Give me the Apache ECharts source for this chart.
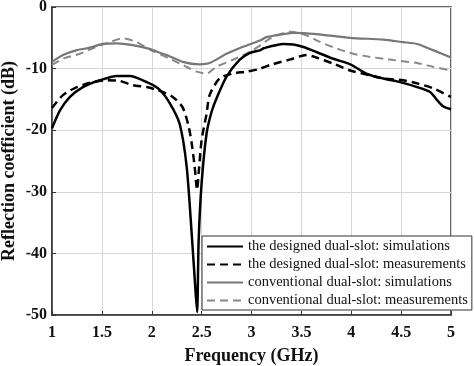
<!DOCTYPE html>
<html><head><meta charset="utf-8">
<script src="https://cdn.jsdelivr.net/npm/echarts@6/dist/echarts.min.js"></script>
<style>html,body{margin:0;padding:0;background:#fff}#c{width:474px;height:366px}</style>
</head><body><div id="c"></div>
<script>
const xTicks = [1, 1.5, 2, 2.5, 3, 3.5, 4, 4.5, 5];
const yTicks = [-50, -40, -30, -20, -10, 0];
const seriesNames = [
  'the designed dual-slot: simulations',
  'the designed dual-slot: measurements',
  'conventional dual-slot: simulations',
  'conventional dual-slot: measurements'
];
const designedSim = [[1.0,-19.7],[1.08,-16.8],[1.18,-14.6],[1.31,-13.0],[1.48,-11.9],[1.65,-11.2],[1.78,-11.2],[1.95,-12.2],[2.07,-13.3],[2.18,-15.6],[2.28,-19.0],[2.35,-25.9],[2.40,-36.7],[2.44,-46.4],[2.455,-49.5],[2.47,-38.0],[2.50,-28.6],[2.55,-20.5],[2.60,-17.0],[2.65,-14.8],[2.75,-11.3],[2.88,-8.6],[2.98,-7.5],[3.09,-7.0],[3.12,-6.7],[3.32,-6.0],[3.42,-6.1],[3.52,-6.5],[3.65,-7.3],[3.82,-8.4],[3.99,-9.3],[4.15,-10.8],[4.32,-11.6],[4.49,-12.2],[4.66,-13.0],[4.79,-13.8],[4.86,-15.1],[4.92,-16.1],[5.0,-16.6]];
const designedMeas = [[1.0,-16.4],[1.11,-14.3],[1.25,-13.0],[1.41,-12.2],[1.55,-11.9],[1.68,-12.0],[1.81,-12.7],[1.95,-13.0],[2.06,-13.5],[2.21,-14.6],[2.31,-16.3],[2.37,-19.4],[2.40,-22.1],[2.43,-25.9],[2.455,-29.7],[2.47,-27.0],[2.50,-21.6],[2.55,-17.3],[2.58,-14.3],[2.68,-11.6],[2.81,-10.8],[2.95,-10.5],[3.07,-10.1],[3.19,-9.4],[3.39,-8.5],[3.55,-7.8],[3.65,-8.2],[3.82,-9.2],[3.99,-10.3],[4.19,-11.1],[4.32,-11.6],[4.52,-11.9],[4.66,-12.4],[4.82,-13.2],[5.0,-14.6]];
const convSim = [[1.0,-8.9],[1.11,-7.8],[1.25,-7.0],[1.38,-6.6],[1.51,-6.0],[1.65,-5.9],[1.81,-6.2],[1.98,-6.8],[2.06,-7.3],[2.15,-7.8],[2.31,-8.9],[2.48,-9.3],[2.58,-9.1],[2.75,-7.6],[2.91,-6.5],[3.09,-5.4],[3.15,-4.9],[3.32,-4.4],[3.42,-4.2],[3.65,-4.4],[3.99,-5.0],[4.32,-5.3],[4.52,-5.7],[4.66,-6.0],[4.82,-7.0],[5.0,-8.2]];
const convMeas = [[1.0,-9.4],[1.11,-8.4],[1.28,-7.6],[1.41,-6.7],[1.58,-5.7],[1.71,-5.1],[1.85,-5.7],[1.98,-6.9],[2.18,-8.4],[2.31,-9.4],[2.45,-10.5],[2.55,-10.8],[2.65,-9.7],[2.81,-8.6],[2.98,-7.3],[3.09,-6.2],[3.19,-5.1],[3.39,-4.0],[3.55,-4.6],[3.69,-5.7],[3.85,-6.7],[4.02,-7.6],[4.19,-8.1],[4.42,-8.6],[4.66,-9.1],[4.82,-9.7],[5.0,-10.3]];

const serif = '"Liberation Serif","Times New Roman",serif';
const chart = echarts.init(document.getElementById('c'), null, {renderer:'canvas'});
function mk(name, data, color, width, type, z){
  return {name, type:'line', data, symbol:'none', smooth:0.25, z,
    lineStyle:{color, width, type}, itemStyle:{color}};
}
chart.setOption({
  animation:false,
  backgroundColor:'#fff',
  grid:{left:52, right:23, top:7, bottom:51, containLabel:false, outerBoundsMode:'none',
    show:true, borderColor:'#333', borderWidth:1.5},
  xAxis:{type:'value', min:1, max:5, interval:0.5,
    axisLine:{show:true, onZero:false, lineStyle:{color:'#333', width:1.5}},
    axisTick:{show:true, inside:true, length:4, lineStyle:{color:'#333'}},
    splitLine:{show:true, lineStyle:{color:'#d6d6d6', width:1}},
    axisLabel:{color:'#111', fontFamily:serif, fontWeight:'bold', fontSize:16, margin:10,
      formatter:v=>xTicks.includes(v)?String(v):''},
    name:'Frequency (GHz)', nameLocation:'middle', nameGap:32, nameMoveOverlap:false,
    nameTextStyle:{color:'#111', fontFamily:serif, fontWeight:'bold', fontSize:18}},
  yAxis:{type:'value', min:-50, max:0, interval:10,
    axisLine:{show:true, onZero:false, lineStyle:{color:'#333', width:1.5}},
    axisTick:{show:true, inside:true, length:4, lineStyle:{color:'#333'}},
    splitLine:{show:true, lineStyle:{color:'#d6d6d6', width:1}},
    axisLabel:{color:'#111', fontFamily:serif, fontWeight:'bold', fontSize:16, margin:5,
      formatter:v=>yTicks.includes(v)?String(v):''},
    name:'Reflection coefficient (dB)', nameLocation:'middle', nameGap:34, nameMoveOverlap:false,
    nameTextStyle:{color:'#111', fontFamily:serif, fontWeight:'bold', fontSize:18}},
  legend:{show:true, orient:'vertical', left:202, top:236,
    backgroundColor:'#fff', borderColor:'#333', borderWidth:1,
    padding:[3,4,2,4], itemGap:3, itemWidth:36, itemHeight:14,
    itemStyle:{opacity:0, color:'transparent', borderWidth:0},
    textStyle:{fontFamily:serif, fontSize:14.5, color:'#111'},
    data:seriesNames.slice()},
  series:[
    mk(seriesNames[3], convMeas, '#888', 2, [8,5], 2),
    mk(seriesNames[2], convSim, '#777', 2.2, 'solid', 3),
    mk(seriesNames[1], designedMeas, '#000', 2.5, [8,5], 4),
    mk(seriesNames[0], designedSim, '#000', 2.5, 'solid', 5)
  ]
});
</script></body></html>
